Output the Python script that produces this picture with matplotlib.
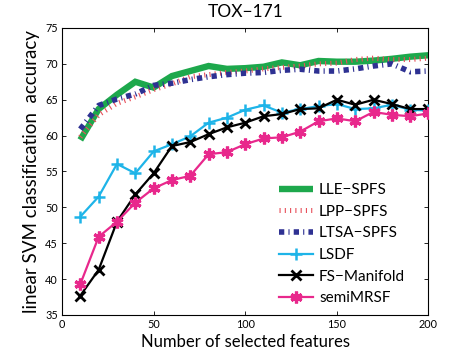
import matplotlib
matplotlib.use("Agg")
import matplotlib.pyplot as plt

plt.rcParams['font.family'] = ['Lato', 'DejaVu Sans']
plt.rcParams['lines.scale_dashes'] = False

features = [10, 20, 30, 40, 50, 60, 70, 80, 90, 100, 110, 120, 130, 140, 150, 160, 170, 180, 190, 200]
lle_spfs = [59.4, 63.7, 65.7, 67.5, 66.7, 68.3, 69.0, 69.7, 69.3, 69.4, 69.6, 70.2, 69.8, 70.4, 70.3, 70.3, 70.45, 70.7, 71.0, 71.2]
lpp_spfs = [59.8, 62.9, 64.5, 65.4, 66.4, 67.2, 68.2, 68.5, 68.8, 69.0, 69.3, 69.5, 69.7, 70.0, 70.1, 70.6, 70.8, 70.6, 70.6, 70.8]
ltsa_spfs = [60.9, 64.2, 65.1, 65.8, 67.0, 67.3, 67.8, 68.2, 68.5, 68.7, 68.8, 69.1, 69.25, 69.0, 69.0, 69.3, 69.7, 70.0, 68.9, 69.0]
lsdf = [48.7, 51.5, 56.05, 54.75, 57.8, 58.8, 59.9, 61.8, 62.5, 63.6, 64.2, 63.2, 63.7, 64.1, 64.4, 63.7, 63.8, 64.3, 63.6, 63.5]
fs_manifold = [37.7, 41.3, 48.0, 51.8, 54.75, 58.55, 59.1, 60.2, 61.15, 61.8, 62.7, 63.0, 63.7, 63.8, 65.0, 64.3, 65.0, 64.4, 63.7, 63.7]
semimrsf = [39.3, 45.9, 48.0, 50.65, 52.65, 53.8, 54.4, 57.4, 57.7, 58.8, 59.6, 59.77, 60.55, 62.0, 62.4, 62.0, 63.3, 62.9, 62.7, 63.1]

labels = ['LLE\u2212SPFS', 'LPP\u2212SPFS', 'LTSA\u2212SPFS', 'LSDF', 'FS\u2212Manifold', 'semiMRSF']
title = 'TOX\u2212171'
xlabel = 'Number of selected features'
ylabel = 'linear SVM classification  accuracy'
xticks = [0, 50, 100, 150, 200]
yticks = [35, 40, 45, 50, 55, 60, 65, 70, 75]

fig = plt.figure(figsize=(4.74, 3.55), dpi=100)
ax = fig.add_axes([0.1308, 0.1127, 0.7732, 0.8085])

ax.plot(features, lle_spfs, color='#1DA84C', lw=4.6, solid_capstyle='butt', solid_joinstyle='miter', label=labels[0], zorder=2)
ax.plot(features, lpp_spfs, color='#E8505B', lw=3.6, linestyle=(0, (0.8, 3.0)), dash_capstyle='butt', label=labels[1], zorder=3)
ax.plot(features, ltsa_spfs, color='#2E3192', lw=4.0, linestyle=(0, (3.8, 3.0, 0.8, 3.0)), dash_capstyle='butt', label=labels[2], zorder=4)
ax.plot(features, lsdf, color='#1EB4E8', lw=1.6, marker='+', ms=9, mew=1.8, label=labels[3], zorder=5)
ax.plot(features, fs_manifold, color='black', lw=1.6, marker='x', ms=6.5, mew=2.0, label=labels[4], zorder=6)
ax.plot(features, semimrsf, color='#E8288C', lw=1.6, marker=(6, 2, 0), ms=8.5, mew=2.3, label=labels[5], zorder=7)

ax.set_xlim(0, 200)
ax.set_ylim(35, 75)
ax.set_xticks(xticks)
ax.set_yticks(yticks)
ax.tick_params(direction='in', top=True, right=True, labelsize=7.8, length=3, width=0.6, pad=3)
for s in ax.spines.values():
    s.set_linewidth(0.8)

ax.set_title(title, fontsize=12.5, pad=8)
ax.set_xlabel(xlabel, fontsize=12, labelpad=3)
ax.set_ylabel(ylabel, fontsize=13.5, labelpad=4)

leg = ax.legend(loc='upper left', bbox_to_anchor=(0.592, 0.46), frameon=False, fontsize=11,
                handlelength=2.2, handletextpad=0.42, labelspacing=0.5, borderaxespad=0, borderpad=0)

fig.savefig('out.png', dpi=100)
